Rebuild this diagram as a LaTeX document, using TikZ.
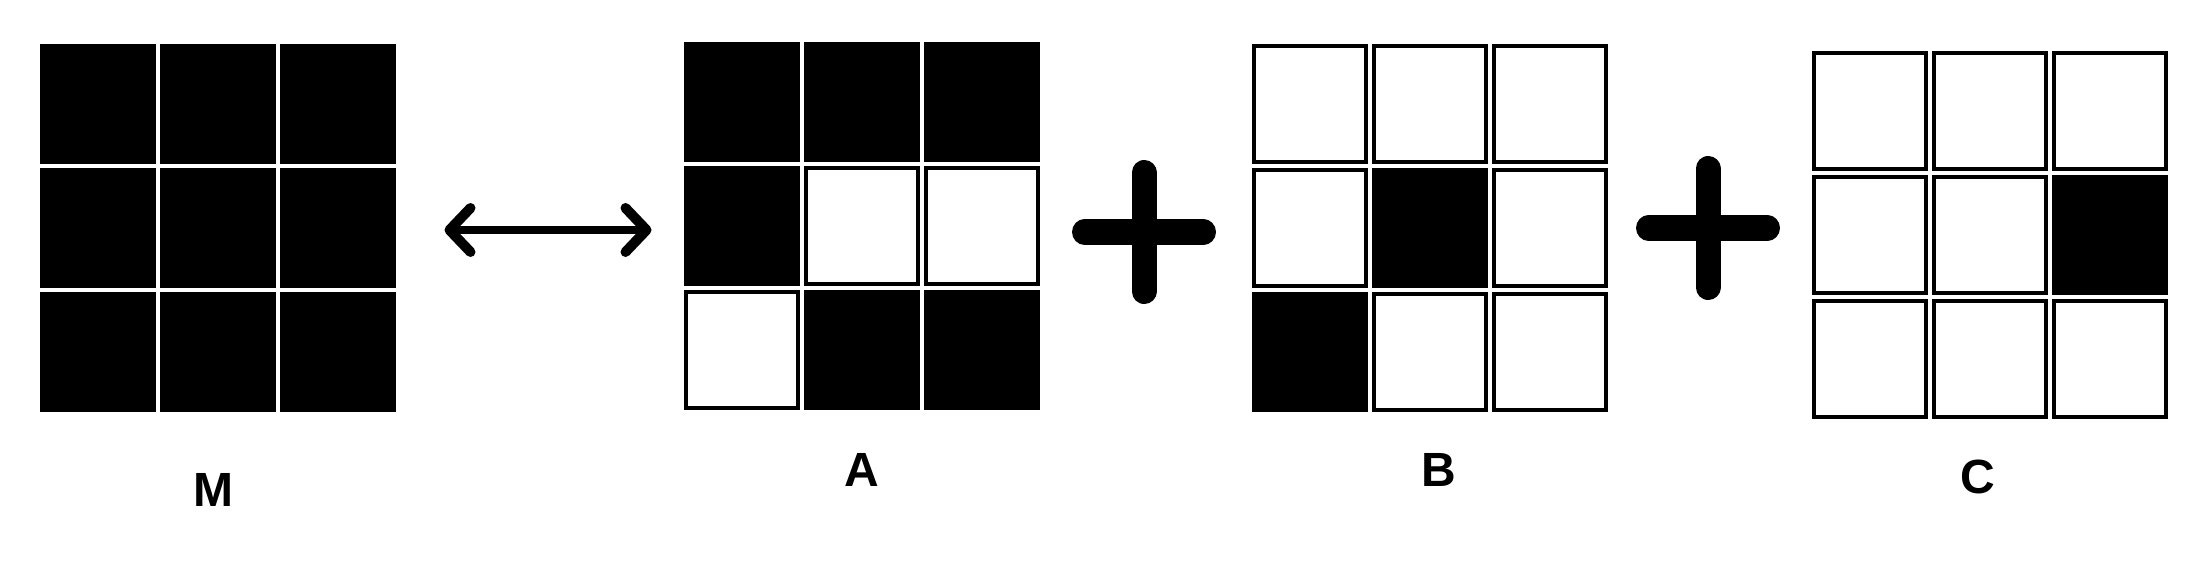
\documentclass[tikz,border=0pt]{standalone}
\usepackage{fontspec}
\setmainfont{Liberation Sans}
\newfontfamily\lblfont{Liberation Sans}[Scale=1]
\begin{document}
\begin{tikzpicture}[x=1pt,y=-1pt,
  blk/.style={rectangle, inner sep=0pt, outer sep=0pt, fill=black, draw=none,
    minimum width=116pt, minimum height=120pt},
  wht/.style={rectangle, inner sep=0pt, outer sep=0pt, fill=white, draw=black,
    line width=4pt, minimum width=112pt, minimum height=116pt},
  lbl/.style={inner sep=0pt, font=\lblfont\bfseries\fontsize{48}{52}\selectfont},
  shaft/.style={line width=8pt},
  chev/.style={line width=10pt, line cap=round, line join=round},
  plusbar/.style={line width=25pt, line cap=round}
]
\useasboundingbox (0,0) rectangle (2208,588);
\fill[white] (0,0) rectangle (2208,588);

\newcommand\mygrid[4]{%
  \foreach \s [count=\i from 0] in {#4} {
    \pgfmathtruncatemacro\r{floor(\i/3)}
    \pgfmathtruncatemacro\c{\i-3*\r}
    \ifnum\s=1
      \node[blk] (#1\r\c) at (#2+58+120*\c, #3+60+124*\r) {};
    \else
      \node[wht] (#1\r\c) at (#2+58+120*\c, #3+60+124*\r) {};
    \fi
  }
}

\mygrid{M}{40}{44}{1,1,1,1,1,1,1,1,1}
\mygrid{A}{684}{42}{1,1,1,1,0,0,0,1,1}
\mygrid{B}{1252}{44}{0,0,0,0,1,0,1,0,0}
\mygrid{C}{1812}{51}{0,0,0,0,0,1,0,0,0}

\node[lbl] (Mlab) at (213.5,490) {M};
\node[lbl] (Alab) at (862,470) {A};
\node[lbl] (Blab) at (1438.5,470) {B};
\node[lbl] (Clab) at (1978,477) {C};

% double arrow
\coordinate (arrL) at (449.5,230);
\coordinate (arrR) at (646.5,230);
\draw[shaft] (arrL) -- (arrR);
\draw[chev] ([shift={(21,-22)}]arrL) -- (arrL) -- ([shift={(21,22)}]arrL);
\draw[chev] ([shift={(-21,-22)}]arrR) -- (arrR) -- ([shift={(-21,22)}]arrR);

% plus signs
\coordinate (p1) at (1144,232);
\coordinate (p2) at (1708,228);
\foreach \p in {p1,p2} {
  \draw[plusbar] ([xshift=-59.5pt]\p) -- ([xshift=59.5pt]\p);
  \draw[plusbar] ([yshift=-59.5pt]\p) -- ([yshift=59.5pt]\p);
}
\end{tikzpicture}
\end{document}
